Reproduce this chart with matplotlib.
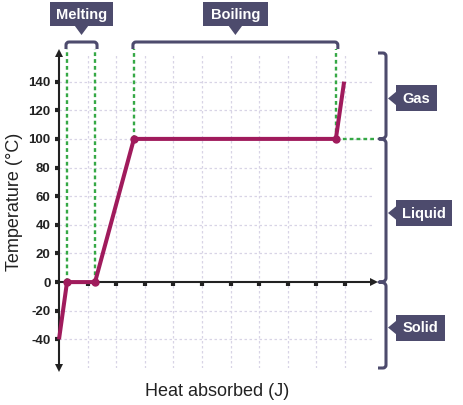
import matplotlib
matplotlib.use('Agg')
import matplotlib.pyplot as plt
from matplotlib.path import Path
from matplotlib.patches import PathPatch, Polygon, Rectangle

# ---- data ----
heat = [0.0, 0.28, 1.26, 2.62, 9.68, 9.97]
temp = [-40, 0, 0, 100, 100, 140]
y_ticks = [-40, -20, 0, 20, 40, 60, 80, 100, 120, 140]
x_ticks = [1, 2, 3, 4, 5, 6, 7, 8, 9, 10]
phase_labels = ['Gas', 'Liquid', 'Solid']
phase_bounds = [(160, 100), (100, 0), (0, -60)]
change_labels = ['Melting', 'Boiling']

W, H = 464, 405
MAROON = '#a01b5c'
SLATE = '#4d4b6d'
GREEN = '#35a845'
GRID = '#d8d4e6'
AX = '#222222'
FONT = 'Liberation Sans'

plt.rcParams['font.family'] = [FONT, 'DejaVu Sans']

fig = plt.figure(figsize=(W / 100, H / 100), dpi=100)
ax = fig.add_axes([59 / W, 37 / H, 314.6 / W, 315 / H])
ax.set_xlim(0, 11)
ax.set_ylim(-60, 160)
ax.patch.set_alpha(0)

ov = fig.add_axes([0, 0, 1, 1], zorder=5)
ov.set_xlim(0, W)
ov.set_ylim(H, 0)
ov.axis('off')
ov.patch.set_alpha(0)


def px(x, y):
    d = ax.transData.transform((x, y))
    return d[0], H - d[1]


# grid
for x in x_ticks:
    ax.plot([x, x], [-60, 160], color=GRID, lw=0.9, ls=(0, (2, 2)), zorder=1)
for y in y_ticks:
    if y != 0:
        ax.plot([0, 11], [y, y], color=GRID, lw=0.9, ls=(0, (2, 2)), zorder=1)

# green guide lines
top_y = 162.8
for i in [1, 2, 3, 4]:
    ax.plot([heat[i], heat[i]], [temp[i], top_y], color=GREEN, lw=1.7,
            ls=(0, (1.6, 1.3)), clip_on=False, zorder=2)
ax.plot([heat[4], 11.0], [100, 100], color=GREEN, lw=1.7,
        ls=(0, (1.6, 1.3)), clip_on=False, zorder=2)

# axes
for s in ['top', 'right']:
    ax.spines[s].set_visible(False)
ax.spines['bottom'].set_position(('data', 0))
ax.spines['bottom'].set_linewidth(1.5)
ax.spines['left'].set_linewidth(1.5)
ax.spines['bottom'].set_color(AX)
ax.spines['left'].set_color(AX)
ax.spines['bottom'].set_zorder(4)
ax.spines['left'].set_zorder(4)
ax.set_xticks(x_ticks)
ax.set_xticklabels([])
ax.set_yticks(y_ticks)
ax.set_yticklabels([str(v) for v in y_ticks], fontsize=9.5, fontweight='bold',
                   color=AX)
ax.tick_params(axis='both', direction='out', length=3, width=3, color=AX, pad=3)
ax.plot([11], [0], marker='>', ms=6, color=AX, clip_on=False, zorder=4,
        markeredgewidth=0)
ax.plot([0], [160], marker='^', ms=6, color=AX, clip_on=False, zorder=4,
        markeredgewidth=0)
ax.plot([0], [-60], marker='v', ms=6, color=AX, clip_on=False, zorder=4,
        markeredgewidth=0)

# heating curve
ax.plot(heat, temp, color=MAROON, lw=2.9, marker='o', ms=5, markevery=[1, 2, 3, 4],
        clip_on=False, zorder=6, solid_joinstyle='round', solid_capstyle='butt')

# axis labels
ov.text(15, 202, 'Temperature (°C)', rotation=90, fontsize=13, ha='center',
        va='center', color=AX)
ov.text(217, 391, 'Heat absorbed (J)', fontsize=13, ha='center', va='center',
        color=AX)


# top brackets with labels
def top_bracket(x0, x1, label, w):
    y, drop, r = 42, 7, 3
    verts = [(x0, y + drop), (x0, y + r), (x0, y), (x0 + r, y), (x1 - r, y),
             (x1, y), (x1, y + r), (x1, y + drop)]
    codes = [Path.MOVETO, Path.LINETO, Path.CURVE3, Path.CURVE3, Path.LINETO,
             Path.CURVE3, Path.CURVE3, Path.LINETO]
    ov.add_patch(PathPatch(Path(verts, codes), fill=False, ec=SLATE, lw=2.2,
                           capstyle='butt', joinstyle='round'))
    cx = (x0 + x1) / 2
    ov.add_patch(Rectangle((cx - w / 2, 2), w, 24, fc=SLATE, ec='none'))
    ov.add_patch(Polygon([(cx - 7, 25.5), (cx + 7, 25.5), (cx, 35)], fc=SLATE,
                         ec='none'))
    ov.text(cx, 14.5, label, color='white', fontsize=10.5, fontweight='bold',
            ha='center', va='center')


mx0 = px(heat[1], 0)[0] - 1
mx1 = px(heat[2], 0)[0] + 2
bx0 = px(heat[3], 0)[0] - 1
bx1 = px(heat[4], 0)[0] + 2
top_bracket(mx0, mx1, change_labels[0], 63)
top_bracket(bx0, bx1, change_labels[1], 65)

# right brackets
xb = 386
ys = [px(0, b[0])[1] for b in phase_bounds] + [px(0, phase_bounds[-1][1])[1]]
yt, y1, y2, yb = ys[0], ys[1], ys[2], ys[3]
verts = [(378, yt), (383, yt), (xb, yt), (xb, yt + 3),
         (xb, y1 - 4), (xb, y1), (379, y1), (xb, y1), (xb, y1 + 4),
         (xb, y2 - 4), (xb, y2), (379, y2), (xb, y2), (xb, y2 + 4),
         (xb, yb - 3), (xb, yb), (383, yb), (378, yb)]
codes = [Path.MOVETO, Path.LINETO, Path.CURVE3, Path.CURVE3,
         Path.LINETO, Path.CURVE3, Path.CURVE3, Path.CURVE3, Path.CURVE3,
         Path.LINETO, Path.CURVE3, Path.CURVE3, Path.CURVE3, Path.CURVE3,
         Path.LINETO, Path.CURVE3, Path.CURVE3, Path.LINETO]
ov.add_patch(PathPatch(Path(verts, codes), fill=False, ec=SLATE, lw=2.2,
                       capstyle='butt', joinstyle='round'))

widths = [41, 56, 49]
for lab, (hi, lo), w in zip(phase_labels, phase_bounds, widths):
    ya = px(0, hi)[1]
    yb_ = px(0, lo)[1]
    cy = (ya + yb_) / 2 + 2.5
    ov.add_patch(Rectangle((396, cy - 13), w, 26, fc=SLATE, ec='none'))
    ov.add_patch(Polygon([(396.5, cy - 7), (396.5, cy + 7), (388, cy)], fc=SLATE,
                         ec='none'))
    ov.text(396 + w / 2, cy + 0.5, lab, color='white', fontsize=10.5,
            fontweight='bold', ha='center', va='center')

fig.savefig('out.png', dpi=100)
